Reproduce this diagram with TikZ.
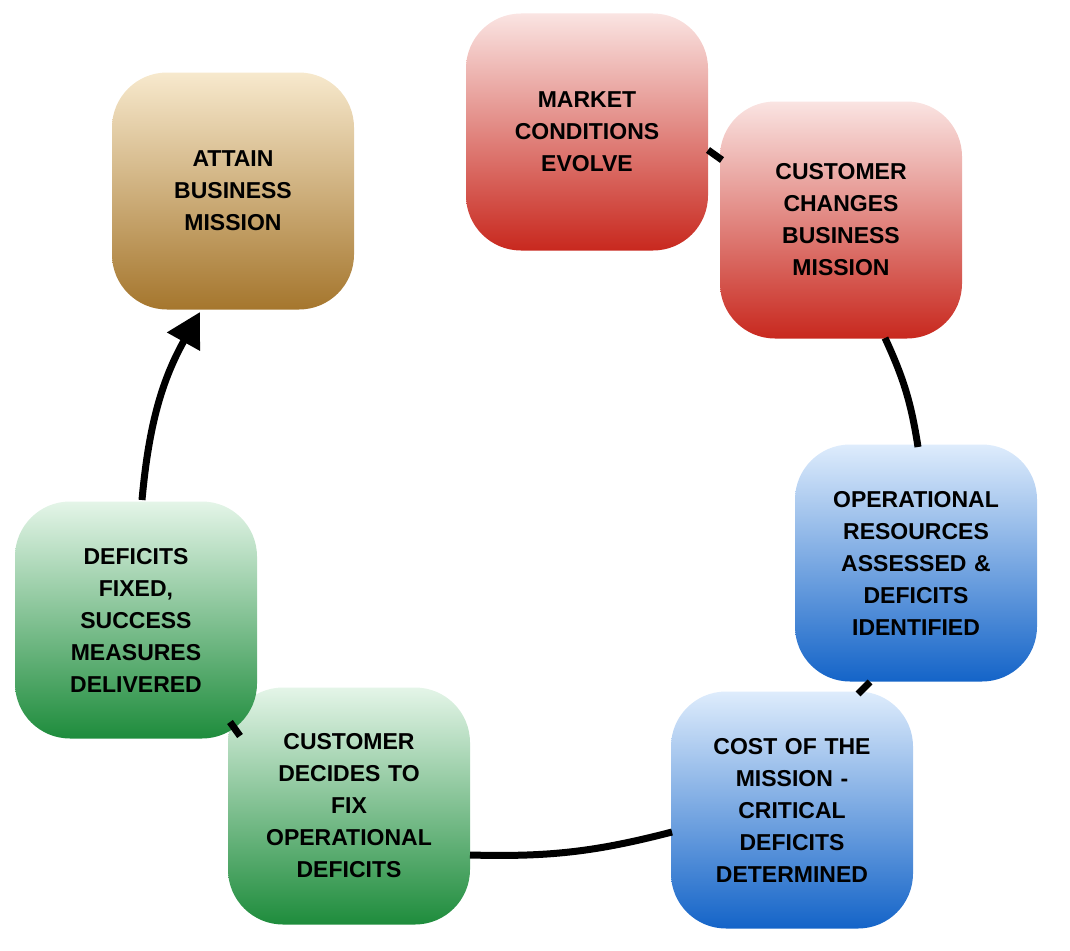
\documentclass[tikz,border=0pt]{standalone}
\usepackage{fontspec}
\setmainfont{Liberation Sans}
\usetikzlibrary{arrows.meta}
\definecolor{redT}{RGB}{250,228,226}\definecolor{redB}{RGB}{200,40,30}
\definecolor{tanT}{RGB}{247,233,205}\definecolor{tanB}{RGB}{165,118,45}
\definecolor{bluT}{RGB}{222,236,252}\definecolor{bluB}{RGB}{20,100,200}
\definecolor{grnT}{RGB}{228,245,232}\definecolor{grnB}{RGB}{30,140,60}
\begin{document}
\begin{tikzpicture}[x=1pt,y=-1pt,
 box/.style={minimum width=242pt,minimum height=237pt,rounded corners=55pt,align=center,
   font=\bfseries\fontsize{23}{32}\selectfont,text width=220pt,inner sep=0pt},
 red/.style={box,top color=redT,bottom color=redB},
 tan/.style={box,top color=tanT,bottom color=tanB},
 blu/.style={box,top color=bluT,bottom color=bluB},
 grn/.style={box,top color=grnT,bottom color=grnB},
 conn/.style={line width=7pt,black}]
\useasboundingbox (0,0) rectangle (1070,950);
\node[tan] (at) at (233,191) {ATTAIN\\BUSINESS\\MISSION\\[32pt]};
\node[red] (mk) at (587,132) {MARKET\\CONDITIONS\\EVOLVE\\[32pt]};
\node[red] (cc) at (841,220) {CUSTOMER\\CHANGES\\BUSINESS\\MISSION};
\node[blu] (op) at (916,563) {OPERATIONAL\\RESOURCES\\ASSESSED \&\\DEFICITS\\IDENTIFIED};
\node[blu] (co) at (792,810) {COST OF THE\\MISSION -\\CRITICAL\\DEFICITS\\DETERMINED};
\node[grn] (cd) at (349,806) {CUSTOMER\\DECIDES TO\\FIX\\OPERATIONAL\\DEFICITS};
\node[grn] (df) at (136,620) {DEFICITS\\FIXED,\\SUCCESS\\MEASURES\\DELIVERED};
\draw[conn] (708,150) -- (722,160);
\draw[conn] (885,338) to[bend left=8] (918,447);
\draw[conn] (870,682) -- (858,694);
\draw[conn] (672,832) to[bend left=8] (470,855);
\draw[conn] (240,736) -- (230,722);
\draw[conn,-{Triangle[length=34pt,width=36pt]}] (142,500) to[bend left=12] (200,312);
\end{tikzpicture}
\end{document}
